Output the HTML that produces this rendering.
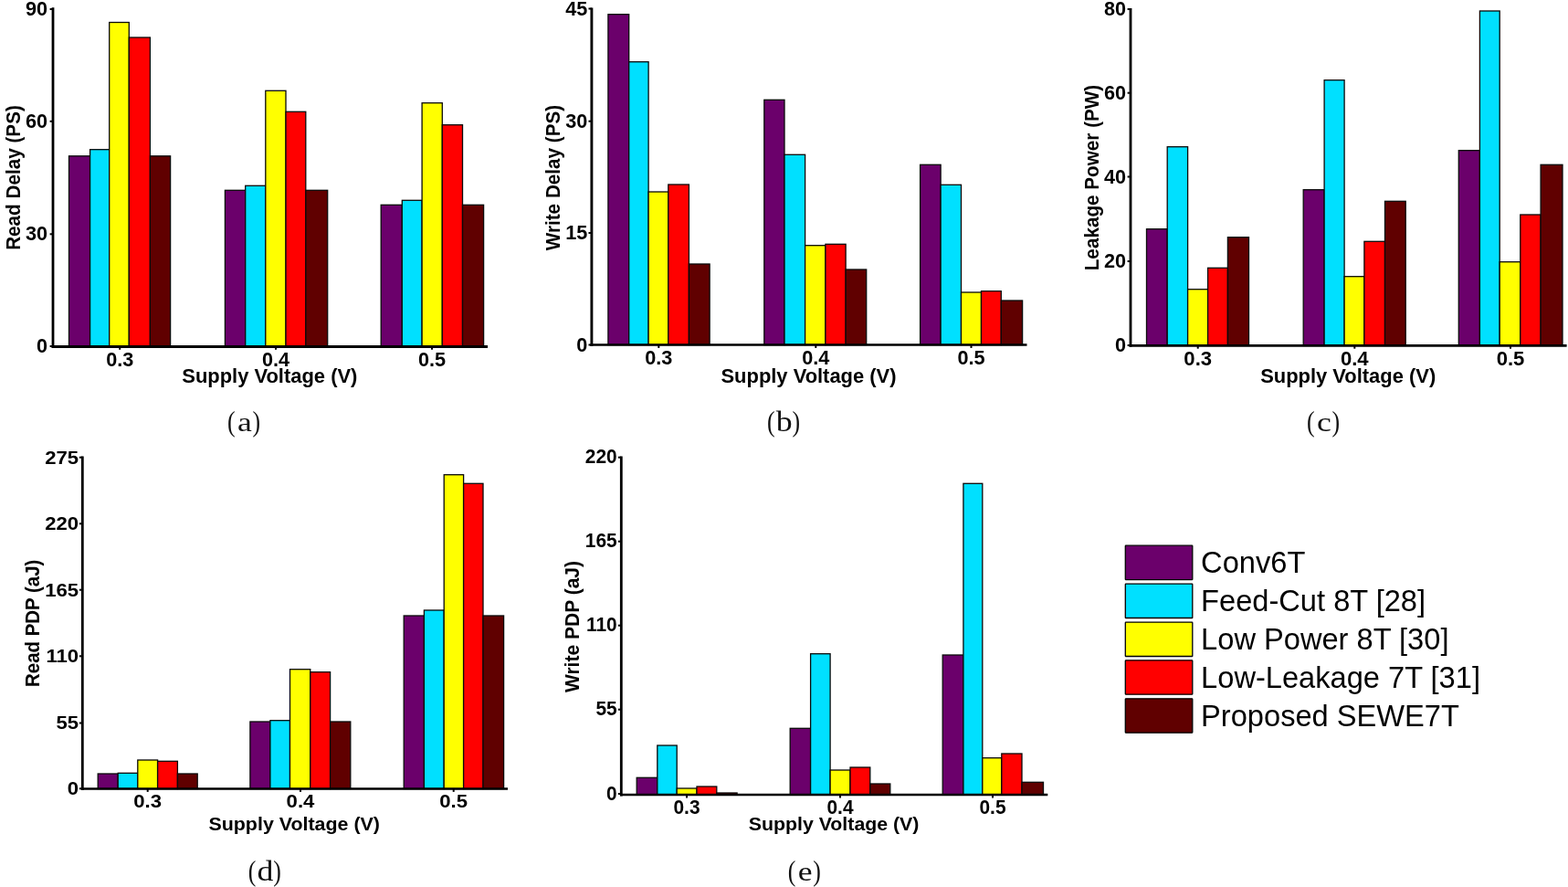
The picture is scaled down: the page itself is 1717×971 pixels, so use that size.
<!DOCTYPE html>
<html lang="en"><head><meta charset="utf-8"><title>SRAM cell comparison charts</title>
<style>html,body{margin:0;padding:0;background:#fff;}body{width:1717px;height:971px;overflow:hidden;}svg text{white-space:pre;}</style></head>
<body>
<svg width="1717" height="971" viewBox="0 0 1717 971" style="display:block">
<rect width="1717" height="971" fill="#fff"/>
<rect x="75.50" y="170.80" width="23.10" height="208.60" fill="#6b006b" stroke="#0a0a0a" stroke-width="1.3"/>
<rect x="98.60" y="163.70" width="21.10" height="215.70" fill="#00e0ff" stroke="#0a0a0a" stroke-width="1.3"/>
<rect x="119.70" y="24.50" width="21.60" height="354.90" fill="#ffff00" stroke="#0a0a0a" stroke-width="1.3"/>
<rect x="141.30" y="41.00" width="23.10" height="338.40" fill="#ff0000" stroke="#0a0a0a" stroke-width="1.3"/>
<rect x="164.40" y="170.80" width="22.20" height="208.60" fill="#600000" stroke="#0a0a0a" stroke-width="1.3"/>
<rect x="246.40" y="208.30" width="22.30" height="171.10" fill="#6b006b" stroke="#0a0a0a" stroke-width="1.3"/>
<rect x="268.70" y="203.30" width="22.10" height="176.10" fill="#00e0ff" stroke="#0a0a0a" stroke-width="1.3"/>
<rect x="290.80" y="99.30" width="22.20" height="280.10" fill="#ffff00" stroke="#0a0a0a" stroke-width="1.3"/>
<rect x="313.00" y="122.30" width="21.80" height="257.10" fill="#ff0000" stroke="#0a0a0a" stroke-width="1.3"/>
<rect x="334.80" y="208.30" width="23.90" height="171.10" fill="#600000" stroke="#0a0a0a" stroke-width="1.3"/>
<rect x="417.20" y="224.30" width="23.10" height="155.10" fill="#6b006b" stroke="#0a0a0a" stroke-width="1.3"/>
<rect x="440.30" y="219.30" width="21.80" height="160.10" fill="#00e0ff" stroke="#0a0a0a" stroke-width="1.3"/>
<rect x="462.10" y="112.70" width="22.20" height="266.70" fill="#ffff00" stroke="#0a0a0a" stroke-width="1.3"/>
<rect x="484.30" y="136.70" width="22.20" height="242.70" fill="#ff0000" stroke="#0a0a0a" stroke-width="1.3"/>
<rect x="506.50" y="224.30" width="23.10" height="155.10" fill="#600000" stroke="#0a0a0a" stroke-width="1.3"/>
<line x1="58.00" y1="8.20" x2="58.00" y2="380.80" stroke="#000" stroke-width="2.8"/>
<line x1="56.60" y1="379.40" x2="534.00" y2="379.40" stroke="#000" stroke-width="3.0"/>
<line x1="54.60" y1="10.00" x2="58.00" y2="10.00" stroke="#000" stroke-width="2.0"/>
<text transform="translate(52.00 17.01) scale(0.9800 1)" font-family='"Liberation Sans", Arial, Helvetica, sans-serif' font-size="22.1" font-weight="bold" text-anchor="end" fill="#000">90</text>
<line x1="54.60" y1="132.80" x2="58.00" y2="132.80" stroke="#000" stroke-width="2.0"/>
<text transform="translate(52.00 139.81) scale(0.9800 1)" font-family='"Liberation Sans", Arial, Helvetica, sans-serif' font-size="22.1" font-weight="bold" text-anchor="end" fill="#000">60</text>
<line x1="54.60" y1="256.30" x2="58.00" y2="256.30" stroke="#000" stroke-width="2.0"/>
<text transform="translate(52.00 263.31) scale(0.9800 1)" font-family='"Liberation Sans", Arial, Helvetica, sans-serif' font-size="22.1" font-weight="bold" text-anchor="end" fill="#000">30</text>
<line x1="54.60" y1="379.00" x2="58.00" y2="379.00" stroke="#000" stroke-width="2.0"/>
<text transform="translate(52.00 386.01) scale(0.9800 1)" font-family='"Liberation Sans", Arial, Helvetica, sans-serif' font-size="22.1" font-weight="bold" text-anchor="end" fill="#000">0</text>
<line x1="131.20" y1="379.40" x2="131.20" y2="382.80" stroke="#000" stroke-width="2.0"/>
<text transform="translate(131.20 400.80) scale(0.9800 1)" font-family='"Liberation Sans", Arial, Helvetica, sans-serif' font-size="22.1" font-weight="bold" text-anchor="middle" fill="#000">0.3</text>
<line x1="302.00" y1="379.40" x2="302.00" y2="382.80" stroke="#000" stroke-width="2.0"/>
<text transform="translate(302.00 400.80) scale(0.9800 1)" font-family='"Liberation Sans", Arial, Helvetica, sans-serif' font-size="22.1" font-weight="bold" text-anchor="middle" fill="#000">0.4</text>
<line x1="473.00" y1="379.40" x2="473.00" y2="382.80" stroke="#000" stroke-width="2.0"/>
<text transform="translate(473.00 400.80) scale(0.9800 1)" font-family='"Liberation Sans", Arial, Helvetica, sans-serif' font-size="22.1" font-weight="bold" text-anchor="middle" fill="#000">0.5</text>
<text transform="translate(295.30 418.50) scale(1.0260 1)" font-family='"Liberation Sans", Arial, Helvetica, sans-serif' font-size="21.4" font-weight="bold" text-anchor="middle" fill="#000">Supply Voltage (V)</text>
<text transform="translate(21.70 194.50) rotate(-90) scale(0.9200 1)" font-family='"Liberation Sans", Arial, Helvetica, sans-serif' font-size="22.5" font-weight="bold" text-anchor="middle" fill="#000">Read Delay (PS)</text>
<g aria-label="(a)"><text transform="translate(253.30 472.30) scale(0.8000 1)" font-family='"Liberation Serif", "DejaVu Serif", serif' font-size="32.3" font-weight="normal" text-anchor="middle" fill="#111">(</text><text transform="translate(267.80 472.00) scale(1.2500 1)" font-family='"Liberation Serif", "DejaVu Serif", serif' font-size="28.5" font-weight="normal" text-anchor="middle" fill="#111">a</text><text transform="translate(280.70 472.30) scale(0.8000 1)" font-family='"Liberation Serif", "DejaVu Serif", serif' font-size="32.3" font-weight="normal" text-anchor="middle" fill="#111">)</text></g>
<rect x="665.90" y="15.70" width="22.80" height="361.80" fill="#6b006b" stroke="#0a0a0a" stroke-width="1.3"/>
<rect x="688.70" y="67.70" width="21.40" height="309.80" fill="#00e0ff" stroke="#0a0a0a" stroke-width="1.3"/>
<rect x="710.10" y="210.00" width="21.70" height="167.50" fill="#ffff00" stroke="#0a0a0a" stroke-width="1.3"/>
<rect x="731.80" y="202.00" width="22.60" height="175.50" fill="#ff0000" stroke="#0a0a0a" stroke-width="1.3"/>
<rect x="754.40" y="289.00" width="22.70" height="88.50" fill="#600000" stroke="#0a0a0a" stroke-width="1.3"/>
<rect x="836.80" y="109.30" width="22.20" height="268.20" fill="#6b006b" stroke="#0a0a0a" stroke-width="1.3"/>
<rect x="859.00" y="169.30" width="22.60" height="208.20" fill="#00e0ff" stroke="#0a0a0a" stroke-width="1.3"/>
<rect x="881.60" y="268.70" width="22.30" height="108.80" fill="#ffff00" stroke="#0a0a0a" stroke-width="1.3"/>
<rect x="903.90" y="267.30" width="22.20" height="110.20" fill="#ff0000" stroke="#0a0a0a" stroke-width="1.3"/>
<rect x="926.10" y="295.00" width="22.60" height="82.50" fill="#600000" stroke="#0a0a0a" stroke-width="1.3"/>
<rect x="1007.60" y="180.30" width="22.50" height="197.20" fill="#6b006b" stroke="#0a0a0a" stroke-width="1.3"/>
<rect x="1030.10" y="202.30" width="22.40" height="175.20" fill="#00e0ff" stroke="#0a0a0a" stroke-width="1.3"/>
<rect x="1052.50" y="320.00" width="22.00" height="57.50" fill="#ffff00" stroke="#0a0a0a" stroke-width="1.3"/>
<rect x="1074.50" y="318.70" width="21.80" height="58.80" fill="#ff0000" stroke="#0a0a0a" stroke-width="1.3"/>
<rect x="1096.30" y="329.00" width="23.30" height="48.50" fill="#600000" stroke="#0a0a0a" stroke-width="1.3"/>
<line x1="647.90" y1="8.50" x2="647.90" y2="378.95" stroke="#000" stroke-width="2.9"/>
<line x1="646.45" y1="377.50" x2="1124.50" y2="377.50" stroke="#000" stroke-width="2.5"/>
<line x1="644.45" y1="9.50" x2="647.90" y2="9.50" stroke="#000" stroke-width="2.0"/>
<text transform="translate(643.40 16.51) scale(0.9800 1)" font-family='"Liberation Sans", Arial, Helvetica, sans-serif' font-size="22.1" font-weight="bold" text-anchor="end" fill="#000">45</text>
<line x1="644.45" y1="132.70" x2="647.90" y2="132.70" stroke="#000" stroke-width="2.0"/>
<text transform="translate(643.40 139.71) scale(0.9800 1)" font-family='"Liberation Sans", Arial, Helvetica, sans-serif' font-size="22.1" font-weight="bold" text-anchor="end" fill="#000">30</text>
<line x1="644.45" y1="255.00" x2="647.90" y2="255.00" stroke="#000" stroke-width="2.0"/>
<text transform="translate(643.40 262.01) scale(0.9800 1)" font-family='"Liberation Sans", Arial, Helvetica, sans-serif' font-size="22.1" font-weight="bold" text-anchor="end" fill="#000">15</text>
<line x1="644.45" y1="377.50" x2="647.90" y2="377.50" stroke="#000" stroke-width="2.0"/>
<text transform="translate(643.40 384.51) scale(0.9800 1)" font-family='"Liberation Sans", Arial, Helvetica, sans-serif' font-size="22.1" font-weight="bold" text-anchor="end" fill="#000">0</text>
<line x1="721.30" y1="377.50" x2="721.30" y2="380.95" stroke="#000" stroke-width="2.0"/>
<text transform="translate(721.30 399.00) scale(0.9800 1)" font-family='"Liberation Sans", Arial, Helvetica, sans-serif' font-size="22.1" font-weight="bold" text-anchor="middle" fill="#000">0.3</text>
<line x1="893.30" y1="377.50" x2="893.30" y2="380.95" stroke="#000" stroke-width="2.0"/>
<text transform="translate(893.30 399.00) scale(0.9800 1)" font-family='"Liberation Sans", Arial, Helvetica, sans-serif' font-size="22.1" font-weight="bold" text-anchor="middle" fill="#000">0.4</text>
<line x1="1063.50" y1="377.50" x2="1063.50" y2="380.95" stroke="#000" stroke-width="2.0"/>
<text transform="translate(1063.50 399.00) scale(0.9800 1)" font-family='"Liberation Sans", Arial, Helvetica, sans-serif' font-size="22.1" font-weight="bold" text-anchor="middle" fill="#000">0.5</text>
<text transform="translate(885.50 419.30) scale(1.0250 1)" font-family='"Liberation Sans", Arial, Helvetica, sans-serif' font-size="21.4" font-weight="bold" text-anchor="middle" fill="#000">Supply Voltage (V)</text>
<text transform="translate(613.00 194.50) rotate(-90) scale(0.9200 1)" font-family='"Liberation Sans", Arial, Helvetica, sans-serif' font-size="22.5" font-weight="bold" text-anchor="middle" fill="#000">Write Delay (PS)</text>
<g aria-label="(b)"><text transform="translate(844.30 472.30) scale(0.8000 1)" font-family='"Liberation Serif", "DejaVu Serif", serif' font-size="32.3" font-weight="normal" text-anchor="middle" fill="#111">(</text><text transform="translate(858.60 472.00) scale(1.1200 1)" font-family='"Liberation Serif", "DejaVu Serif", serif' font-size="32" font-weight="normal" text-anchor="middle" fill="#111">b</text><text transform="translate(871.70 472.30) scale(0.8000 1)" font-family='"Liberation Serif", "DejaVu Serif", serif' font-size="32.3" font-weight="normal" text-anchor="middle" fill="#111">)</text></g>
<rect x="1255.50" y="250.70" width="22.70" height="127.60" fill="#6b006b" stroke="#0a0a0a" stroke-width="1.3"/>
<rect x="1278.20" y="160.70" width="22.40" height="217.60" fill="#00e0ff" stroke="#0a0a0a" stroke-width="1.3"/>
<rect x="1300.60" y="316.70" width="22.00" height="61.60" fill="#ffff00" stroke="#0a0a0a" stroke-width="1.3"/>
<rect x="1322.60" y="293.30" width="21.80" height="85.00" fill="#ff0000" stroke="#0a0a0a" stroke-width="1.3"/>
<rect x="1344.40" y="259.70" width="23.10" height="118.60" fill="#600000" stroke="#0a0a0a" stroke-width="1.3"/>
<rect x="1427.20" y="207.70" width="22.90" height="170.60" fill="#6b006b" stroke="#0a0a0a" stroke-width="1.3"/>
<rect x="1450.10" y="87.70" width="22.00" height="290.60" fill="#00e0ff" stroke="#0a0a0a" stroke-width="1.3"/>
<rect x="1472.10" y="302.70" width="21.80" height="75.60" fill="#ffff00" stroke="#0a0a0a" stroke-width="1.3"/>
<rect x="1493.90" y="264.30" width="22.60" height="114.00" fill="#ff0000" stroke="#0a0a0a" stroke-width="1.3"/>
<rect x="1516.50" y="220.30" width="22.70" height="158.00" fill="#600000" stroke="#0a0a0a" stroke-width="1.3"/>
<rect x="1597.30" y="164.70" width="23.10" height="213.60" fill="#6b006b" stroke="#0a0a0a" stroke-width="1.3"/>
<rect x="1620.40" y="12.00" width="21.80" height="366.30" fill="#00e0ff" stroke="#0a0a0a" stroke-width="1.3"/>
<rect x="1642.20" y="286.70" width="22.60" height="91.60" fill="#ffff00" stroke="#0a0a0a" stroke-width="1.3"/>
<rect x="1664.80" y="235.00" width="22.30" height="143.30" fill="#ff0000" stroke="#0a0a0a" stroke-width="1.3"/>
<rect x="1687.10" y="180.30" width="23.90" height="198.00" fill="#600000" stroke="#0a0a0a" stroke-width="1.3"/>
<line x1="1238.00" y1="9.00" x2="1238.00" y2="379.70" stroke="#000" stroke-width="2.8"/>
<line x1="1236.60" y1="378.30" x2="1715.60" y2="378.30" stroke="#000" stroke-width="2.7"/>
<line x1="1234.60" y1="10.00" x2="1238.00" y2="10.00" stroke="#000" stroke-width="2.0"/>
<text transform="translate(1233.10 17.01) scale(0.9800 1)" font-family='"Liberation Sans", Arial, Helvetica, sans-serif' font-size="22.1" font-weight="bold" text-anchor="end" fill="#000">80</text>
<line x1="1234.60" y1="101.70" x2="1238.00" y2="101.70" stroke="#000" stroke-width="2.0"/>
<text transform="translate(1233.10 108.71) scale(0.9800 1)" font-family='"Liberation Sans", Arial, Helvetica, sans-serif' font-size="22.1" font-weight="bold" text-anchor="end" fill="#000">60</text>
<line x1="1234.60" y1="193.50" x2="1238.00" y2="193.50" stroke="#000" stroke-width="2.0"/>
<text transform="translate(1233.10 200.51) scale(0.9800 1)" font-family='"Liberation Sans", Arial, Helvetica, sans-serif' font-size="22.1" font-weight="bold" text-anchor="end" fill="#000">40</text>
<line x1="1234.60" y1="286.00" x2="1238.00" y2="286.00" stroke="#000" stroke-width="2.0"/>
<text transform="translate(1233.10 293.01) scale(0.9800 1)" font-family='"Liberation Sans", Arial, Helvetica, sans-serif' font-size="22.1" font-weight="bold" text-anchor="end" fill="#000">20</text>
<line x1="1234.60" y1="378.00" x2="1238.00" y2="378.00" stroke="#000" stroke-width="2.0"/>
<text transform="translate(1233.10 385.01) scale(0.9800 1)" font-family='"Liberation Sans", Arial, Helvetica, sans-serif' font-size="22.1" font-weight="bold" text-anchor="end" fill="#000">0</text>
<line x1="1311.70" y1="378.30" x2="1311.70" y2="381.70" stroke="#000" stroke-width="2.0"/>
<text transform="translate(1311.70 399.50)" font-family='"Liberation Sans", Arial, Helvetica, sans-serif' font-size="22.1" font-weight="bold" text-anchor="middle" fill="#000">0.3</text>
<line x1="1483.30" y1="378.30" x2="1483.30" y2="381.70" stroke="#000" stroke-width="2.0"/>
<text transform="translate(1483.30 399.50)" font-family='"Liberation Sans", Arial, Helvetica, sans-serif' font-size="22.1" font-weight="bold" text-anchor="middle" fill="#000">0.4</text>
<line x1="1654.00" y1="378.30" x2="1654.00" y2="381.70" stroke="#000" stroke-width="2.0"/>
<text transform="translate(1654.00 399.50)" font-family='"Liberation Sans", Arial, Helvetica, sans-serif' font-size="22.1" font-weight="bold" text-anchor="middle" fill="#000">0.5</text>
<text transform="translate(1476.20 419.30) scale(1.0250 1)" font-family='"Liberation Sans", Arial, Helvetica, sans-serif' font-size="21.4" font-weight="bold" text-anchor="middle" fill="#000">Supply Voltage (V)</text>
<text transform="translate(1203.00 194.50) rotate(-90) scale(0.9200 1)" font-family='"Liberation Sans", Arial, Helvetica, sans-serif' font-size="22.5" font-weight="bold" text-anchor="middle" fill="#000">Leakage Power (PW)</text>
<g aria-label="(c)"><text transform="translate(1435.30 472.30) scale(0.8000 1)" font-family='"Liberation Serif", "DejaVu Serif", serif' font-size="32.3" font-weight="normal" text-anchor="middle" fill="#111">(</text><text transform="translate(1449.80 472.00) scale(1.2500 1)" font-family='"Liberation Serif", "DejaVu Serif", serif' font-size="28.5" font-weight="normal" text-anchor="middle" fill="#111">c</text><text transform="translate(1462.70 472.30) scale(0.8000 1)" font-family='"Liberation Serif", "DejaVu Serif", serif' font-size="32.3" font-weight="normal" text-anchor="middle" fill="#111">)</text></g>
<rect x="107.20" y="847.00" width="22.00" height="16.50" fill="#6b006b" stroke="#0a0a0a" stroke-width="1.3"/>
<rect x="129.20" y="846.30" width="21.60" height="17.20" fill="#00e0ff" stroke="#0a0a0a" stroke-width="1.3"/>
<rect x="150.80" y="832.00" width="21.80" height="31.50" fill="#ffff00" stroke="#0a0a0a" stroke-width="1.3"/>
<rect x="172.60" y="833.30" width="21.80" height="30.20" fill="#ff0000" stroke="#0a0a0a" stroke-width="1.3"/>
<rect x="194.40" y="847.00" width="21.80" height="16.50" fill="#600000" stroke="#0a0a0a" stroke-width="1.3"/>
<rect x="273.90" y="790.00" width="22.00" height="73.50" fill="#6b006b" stroke="#0a0a0a" stroke-width="1.3"/>
<rect x="295.90" y="788.70" width="21.60" height="74.80" fill="#00e0ff" stroke="#0a0a0a" stroke-width="1.3"/>
<rect x="317.50" y="732.70" width="22.30" height="130.80" fill="#ffff00" stroke="#0a0a0a" stroke-width="1.3"/>
<rect x="339.80" y="735.70" width="21.80" height="127.80" fill="#ff0000" stroke="#0a0a0a" stroke-width="1.3"/>
<rect x="361.60" y="790.00" width="22.20" height="73.50" fill="#600000" stroke="#0a0a0a" stroke-width="1.3"/>
<rect x="442.20" y="674.00" width="22.20" height="189.50" fill="#6b006b" stroke="#0a0a0a" stroke-width="1.3"/>
<rect x="464.40" y="668.00" width="21.80" height="195.50" fill="#00e0ff" stroke="#0a0a0a" stroke-width="1.3"/>
<rect x="486.20" y="519.70" width="21.40" height="343.80" fill="#ffff00" stroke="#0a0a0a" stroke-width="1.3"/>
<rect x="507.60" y="529.30" width="21.40" height="334.20" fill="#ff0000" stroke="#0a0a0a" stroke-width="1.3"/>
<rect x="529.00" y="674.00" width="22.60" height="189.50" fill="#600000" stroke="#0a0a0a" stroke-width="1.3"/>
<line x1="90.30" y1="499.50" x2="90.30" y2="864.90" stroke="#000" stroke-width="2.8"/>
<line x1="88.90" y1="863.50" x2="556.00" y2="863.50" stroke="#000" stroke-width="2.6"/>
<line x1="86.90" y1="500.70" x2="90.30" y2="500.70" stroke="#000" stroke-width="2.0"/>
<text transform="translate(86.10 507.51) scale(1.0700 1)" font-family='"Liberation Sans", Arial, Helvetica, sans-serif' font-size="20.7" font-weight="bold" text-anchor="end" fill="#000">275</text>
<line x1="86.90" y1="573.30" x2="90.30" y2="573.30" stroke="#000" stroke-width="2.0"/>
<text transform="translate(86.10 580.11) scale(1.0700 1)" font-family='"Liberation Sans", Arial, Helvetica, sans-serif' font-size="20.7" font-weight="bold" text-anchor="end" fill="#000">220</text>
<line x1="86.90" y1="645.70" x2="90.30" y2="645.70" stroke="#000" stroke-width="2.0"/>
<text transform="translate(86.10 652.51) scale(1.0700 1)" font-family='"Liberation Sans", Arial, Helvetica, sans-serif' font-size="20.7" font-weight="bold" text-anchor="end" fill="#000">165</text>
<line x1="86.90" y1="718.30" x2="90.30" y2="718.30" stroke="#000" stroke-width="2.0"/>
<text transform="translate(86.10 725.11) scale(1.0700 1)" font-family='"Liberation Sans", Arial, Helvetica, sans-serif' font-size="20.7" font-weight="bold" text-anchor="end" fill="#000">110</text>
<line x1="86.90" y1="791.50" x2="90.30" y2="791.50" stroke="#000" stroke-width="2.0"/>
<text transform="translate(86.10 798.31) scale(1.0700 1)" font-family='"Liberation Sans", Arial, Helvetica, sans-serif' font-size="20.7" font-weight="bold" text-anchor="end" fill="#000">55</text>
<line x1="86.90" y1="863.30" x2="90.30" y2="863.30" stroke="#000" stroke-width="2.0"/>
<text transform="translate(86.10 870.11) scale(1.0700 1)" font-family='"Liberation Sans", Arial, Helvetica, sans-serif' font-size="20.7" font-weight="bold" text-anchor="end" fill="#000">0</text>
<line x1="161.70" y1="863.50" x2="161.70" y2="866.90" stroke="#000" stroke-width="2.0"/>
<text transform="translate(161.70 883.80) scale(1.0700 1)" font-family='"Liberation Sans", Arial, Helvetica, sans-serif' font-size="20.7" font-weight="bold" text-anchor="middle" fill="#000">0.3</text>
<line x1="329.00" y1="863.50" x2="329.00" y2="866.90" stroke="#000" stroke-width="2.0"/>
<text transform="translate(329.00 883.80) scale(1.0700 1)" font-family='"Liberation Sans", Arial, Helvetica, sans-serif' font-size="20.7" font-weight="bold" text-anchor="middle" fill="#000">0.4</text>
<line x1="496.70" y1="863.50" x2="496.70" y2="866.90" stroke="#000" stroke-width="2.0"/>
<text transform="translate(496.70 883.80) scale(1.0700 1)" font-family='"Liberation Sans", Arial, Helvetica, sans-serif' font-size="20.7" font-weight="bold" text-anchor="middle" fill="#000">0.5</text>
<text transform="translate(322.20 909.30) scale(1.0350 1)" font-family='"Liberation Sans", Arial, Helvetica, sans-serif' font-size="20.7" font-weight="bold" text-anchor="middle" fill="#000">Supply Voltage (V)</text>
<text transform="translate(42.70 682.30) rotate(-90) scale(0.9600 1)" font-family='"Liberation Sans", Arial, Helvetica, sans-serif' font-size="21.3" font-weight="bold" text-anchor="middle" fill="#000">Read PDP (aJ)</text>
<g aria-label="(d)"><text transform="translate(276.10 963.90) scale(0.8000 1)" font-family='"Liberation Serif", "DejaVu Serif", serif' font-size="32.3" font-weight="normal" text-anchor="middle" fill="#111">(</text><text transform="translate(290.40 963.60) scale(1.1200 1)" font-family='"Liberation Serif", "DejaVu Serif", serif' font-size="32" font-weight="normal" text-anchor="middle" fill="#111">d</text><text transform="translate(303.50 963.90) scale(0.8000 1)" font-family='"Liberation Serif", "DejaVu Serif", serif' font-size="32.3" font-weight="normal" text-anchor="middle" fill="#111">)</text></g>
<rect x="697.20" y="851.30" width="22.60" height="18.70" fill="#6b006b" stroke="#0a0a0a" stroke-width="1.3"/>
<rect x="719.80" y="816.00" width="21.40" height="54.00" fill="#00e0ff" stroke="#0a0a0a" stroke-width="1.3"/>
<rect x="741.20" y="863.00" width="21.80" height="7.00" fill="#ffff00" stroke="#0a0a0a" stroke-width="1.3"/>
<rect x="763.00" y="861.00" width="21.80" height="9.00" fill="#ff0000" stroke="#0a0a0a" stroke-width="1.3"/>
<rect x="784.80" y="868.00" width="22.30" height="2.00" fill="#600000" stroke="#0a0a0a" stroke-width="1.3"/>
<rect x="865.20" y="797.30" width="22.40" height="72.70" fill="#6b006b" stroke="#0a0a0a" stroke-width="1.3"/>
<rect x="887.60" y="715.70" width="21.50" height="154.30" fill="#00e0ff" stroke="#0a0a0a" stroke-width="1.3"/>
<rect x="909.10" y="843.00" width="21.90" height="27.00" fill="#ffff00" stroke="#0a0a0a" stroke-width="1.3"/>
<rect x="931.00" y="840.00" width="21.80" height="30.00" fill="#ff0000" stroke="#0a0a0a" stroke-width="1.3"/>
<rect x="952.80" y="858.00" width="22.00" height="12.00" fill="#600000" stroke="#0a0a0a" stroke-width="1.3"/>
<rect x="1032.20" y="717.00" width="22.70" height="153.00" fill="#6b006b" stroke="#0a0a0a" stroke-width="1.3"/>
<rect x="1054.90" y="529.30" width="20.90" height="340.70" fill="#00e0ff" stroke="#0a0a0a" stroke-width="1.3"/>
<rect x="1075.80" y="829.70" width="21.00" height="40.30" fill="#ffff00" stroke="#0a0a0a" stroke-width="1.3"/>
<rect x="1096.80" y="825.00" width="22.20" height="45.00" fill="#ff0000" stroke="#0a0a0a" stroke-width="1.3"/>
<rect x="1119.00" y="856.30" width="23.50" height="13.70" fill="#600000" stroke="#0a0a0a" stroke-width="1.3"/>
<line x1="680.30" y1="499.50" x2="680.30" y2="871.40" stroke="#000" stroke-width="2.8"/>
<line x1="678.90" y1="870.00" x2="1147.30" y2="870.00" stroke="#000" stroke-width="2.6"/>
<line x1="676.90" y1="500.70" x2="680.30" y2="500.70" stroke="#000" stroke-width="2.0"/>
<text transform="translate(675.70 507.39) scale(0.9850 1)" font-family='"Liberation Sans", Arial, Helvetica, sans-serif' font-size="21.2" font-weight="bold" text-anchor="end" fill="#000">220</text>
<line x1="676.90" y1="592.70" x2="680.30" y2="592.70" stroke="#000" stroke-width="2.0"/>
<text transform="translate(675.70 599.39) scale(0.9850 1)" font-family='"Liberation Sans", Arial, Helvetica, sans-serif' font-size="21.2" font-weight="bold" text-anchor="end" fill="#000">165</text>
<line x1="676.90" y1="684.70" x2="680.30" y2="684.70" stroke="#000" stroke-width="2.0"/>
<text transform="translate(675.70 691.39) scale(0.9850 1)" font-family='"Liberation Sans", Arial, Helvetica, sans-serif' font-size="21.2" font-weight="bold" text-anchor="end" fill="#000">110</text>
<line x1="676.90" y1="776.70" x2="680.30" y2="776.70" stroke="#000" stroke-width="2.0"/>
<text transform="translate(675.70 783.39) scale(0.9850 1)" font-family='"Liberation Sans", Arial, Helvetica, sans-serif' font-size="21.2" font-weight="bold" text-anchor="end" fill="#000">55</text>
<line x1="676.90" y1="869.00" x2="680.30" y2="869.00" stroke="#000" stroke-width="2.0"/>
<text transform="translate(675.70 875.69) scale(0.9850 1)" font-family='"Liberation Sans", Arial, Helvetica, sans-serif' font-size="21.2" font-weight="bold" text-anchor="end" fill="#000">0</text>
<line x1="752.00" y1="870.00" x2="752.00" y2="873.40" stroke="#000" stroke-width="2.0"/>
<text transform="translate(752.00 890.70) scale(0.9850 1)" font-family='"Liberation Sans", Arial, Helvetica, sans-serif' font-size="21.2" font-weight="bold" text-anchor="middle" fill="#000">0.3</text>
<line x1="920.00" y1="870.00" x2="920.00" y2="873.40" stroke="#000" stroke-width="2.0"/>
<text transform="translate(920.00 890.70) scale(0.9850 1)" font-family='"Liberation Sans", Arial, Helvetica, sans-serif' font-size="21.2" font-weight="bold" text-anchor="middle" fill="#000">0.4</text>
<line x1="1087.00" y1="870.00" x2="1087.00" y2="873.40" stroke="#000" stroke-width="2.0"/>
<text transform="translate(1087.00 890.70) scale(0.9850 1)" font-family='"Liberation Sans", Arial, Helvetica, sans-serif' font-size="21.2" font-weight="bold" text-anchor="middle" fill="#000">0.5</text>
<text transform="translate(913.10 909.10) scale(1.0300 1)" font-family='"Liberation Sans", Arial, Helvetica, sans-serif' font-size="20.7" font-weight="bold" text-anchor="middle" fill="#000">Supply Voltage (V)</text>
<text transform="translate(633.50 686.00) rotate(-90) scale(0.9880 1)" font-family='"Liberation Sans", Arial, Helvetica, sans-serif' font-size="21.3" font-weight="bold" text-anchor="middle" fill="#000">Write PDP (aJ)</text>
<g aria-label="(e)"><text transform="translate(867.10 963.90) scale(0.8000 1)" font-family='"Liberation Serif", "DejaVu Serif", serif' font-size="32.3" font-weight="normal" text-anchor="middle" fill="#111">(</text><text transform="translate(881.60 963.60) scale(1.2500 1)" font-family='"Liberation Serif", "DejaVu Serif", serif' font-size="28.5" font-weight="normal" text-anchor="middle" fill="#111">e</text><text transform="translate(894.50 963.90) scale(0.8000 1)" font-family='"Liberation Serif", "DejaVu Serif", serif' font-size="32.3" font-weight="normal" text-anchor="middle" fill="#111">)</text></g>
<rect x="1232.3" y="597.2" width="73.5" height="37.4" fill="#6b006b" stroke="#000" stroke-width="1.3" rx="0.6"/>
<text transform="translate(1315.10 627.30) scale(0.9920 1)" font-family='"Liberation Sans", Arial, Helvetica, sans-serif' font-size="32.9" font-weight="normal" text-anchor="start" fill="#000">Conv6T</text>
<rect x="1232.3" y="639.1" width="73.5" height="37.4" fill="#00e0ff" stroke="#000" stroke-width="1.3" rx="0.6"/>
<text transform="translate(1315.10 669.00) scale(0.9920 1)" font-family='"Liberation Sans", Arial, Helvetica, sans-serif' font-size="32.9" font-weight="normal" text-anchor="start" fill="#000">Feed-Cut 8T [28]</text>
<rect x="1232.3" y="681.1" width="73.5" height="37.4" fill="#ffff00" stroke="#000" stroke-width="1.3" rx="0.6"/>
<text transform="translate(1315.10 711.00) scale(0.9920 1)" font-family='"Liberation Sans", Arial, Helvetica, sans-serif' font-size="32.9" font-weight="normal" text-anchor="start" fill="#000">Low Power 8T [30]</text>
<rect x="1232.3" y="722.8" width="73.5" height="37.4" fill="#ff0000" stroke="#000" stroke-width="1.3" rx="0.6"/>
<text transform="translate(1315.10 752.90) scale(0.9920 1)" font-family='"Liberation Sans", Arial, Helvetica, sans-serif' font-size="32.9" font-weight="normal" text-anchor="start" fill="#000">Low-Leakage 7T [31]</text>
<rect x="1232.3" y="764.8" width="73.5" height="37.4" fill="#600000" stroke="#000" stroke-width="1.3" rx="0.6"/>
<text transform="translate(1315.10 794.90) scale(0.9920 1)" font-family='"Liberation Sans", Arial, Helvetica, sans-serif' font-size="32.9" font-weight="normal" text-anchor="start" fill="#000">Proposed SEWE7T</text>
</svg>
</body></html>
